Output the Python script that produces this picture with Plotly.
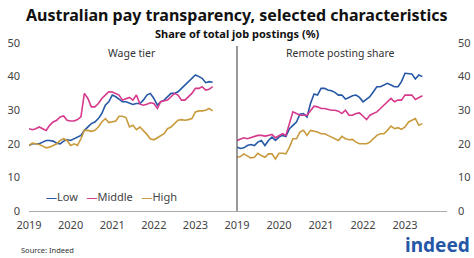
import pandas as pd
import plotly.graph_objects as go

months = pd.date_range("2019-01-01", "2023-06-01", freq="MS")

wage_low = [19.5, 20, 20, 20, 20.5, 21, 21, 20.8, 20.2, 20, 20.8, 21.2,
            21, 21.5, 22, 22.5, 24, 25, 26, 26.5, 27.5, 29, 31.5, 32.5,
            34.5, 34, 33.2, 32.5, 32.5, 32, 31.7, 32, 32, 33, 34.5, 35,
            33.5, 31.5, 32.5, 33, 34, 35, 35, 35.5, 36.5, 37.5, 38.5, 39.5,
            40.5, 40, 39.5, 38.2, 38.5, 38.3]
wage_mid = [24.5, 24.2, 24.5, 25, 24.5, 24, 25.5, 26.5, 27, 28, 28.3, 27,
            26.8, 26.8, 27.2, 28, 35, 33.5, 31, 31, 32, 33.5, 34.5, 35.5,
            35.4, 35, 34.5, 33, 33.5, 33.8, 33, 34.5, 31.8, 31.5, 31.8, 32.2,
            32, 30.5, 32.5, 32.8, 33, 34, 35, 34.5, 33, 33, 34, 35,
            36.5, 36.5, 37, 36, 36.2, 37]
wage_high = [19.5, 20.2, 20, 19.8, 19.3, 18.8, 19, 19.5, 20, 21, 21.5, 21,
             19.5, 20, 19.5, 21.5, 24, 24, 23.7, 24, 25, 26.5, 27.5, 26.3,
             26.5, 26.8, 28.2, 28.2, 27.8, 25, 25.5, 24.2, 25, 24, 22.8, 21.5,
             21.2, 21.8, 22.5, 23, 24.5, 25, 26, 27, 27.2, 27, 27.2, 27.5,
             29.5, 29.8, 29.8, 30, 30.5, 29.8]

rem_low = [19, 18.6, 18.8, 19.5, 19.8, 19.5, 20.5, 21, 19.5, 21, 22, 21,
           22, 22.5, 22.2, 24.5, 25.5, 26.5, 28.8, 29, 28, 32, 34.8, 34.5,
           36.5, 36.5, 36, 35.8, 35.3, 34.5, 34.5, 33.3, 33.8, 34.3, 34.5, 33.8,
           32.5, 33.3, 34, 35.5, 37, 37, 37.5, 38, 37.5, 37, 37, 38.5,
           41, 41, 40.8, 39.3, 40.5, 40]
rem_mid = [21, 21.5, 21.8, 21.5, 21.8, 22, 22.5, 22.5, 22.3, 22.5, 22.8, 21.8,
           22.5, 23, 22.5, 26, 29.5, 29, 28.5, 28.5, 28.5, 29.8, 31.2, 31,
           30.5, 30.5, 30.2, 30, 30, 29.7, 29, 30, 28.5, 28.5, 29, 29.2,
           28.2, 27.2, 28.5, 29, 29.5, 30.5, 31.5, 32.5, 33.5, 32.5, 33, 33,
           34.5, 34.5, 34.5, 33.2, 33.8, 34.3]
rem_high = [16, 16.2, 17, 16.5, 15.8, 16, 17.2, 16.5, 16, 17, 17, 15.5,
            17.2, 17.2, 17, 19, 21.5, 21.5, 23.5, 24, 22.5, 24, 23.8, 23.5,
            23, 23, 22.5, 22, 21.5, 21, 22.2, 21.5, 21.2, 21.3, 20.5, 20,
            20, 20, 20.5, 21.5, 22.5, 23, 23, 24, 25.3, 24.5, 24.8, 24.3,
            25, 26.5, 27, 27.5, 25.5, 26]

series_names = ["Low", "Middle", "High"]
colors = ["#2557a7", "#d6398c", "#c89a3c"]
tick_years = ["2019", "2020", "2021", "2022", "2023"]
y_ticks = [0, 10, 20, 30, 40, 50]

W, H = 474, 258
fig = go.Figure()

for name, vals, c in zip(series_names, [wage_low, wage_mid, wage_high], colors):
    fig.add_trace(go.Scatter(x=months, y=vals, name=name, mode="lines", showlegend=False,
                             line=dict(color=c, width=1.6), xaxis="x", yaxis="y"))
for name, vals, c in zip(series_names, [rem_low, rem_mid, rem_high], colors):
    fig.add_trace(go.Scatter(x=months, y=vals, name=name, mode="lines", showlegend=False,
                             line=dict(color=c, width=1.6), xaxis="x2", yaxis="y2"))

def px_x(p):
    return p / W

def px_y(p):
    return 1 - p / H

ann_font = "Noto Sans, Open Sans, sans-serif"
tickfont = dict(family=ann_font, size=11, color="#444444")
xcommon = dict(type="date", range=["2019-01-01", "2024-01-01"],
               tickvals=[f"{y}-01-01" for y in tick_years], ticktext=tick_years,
               showgrid=False, zeroline=False, showline=True, linecolor="#aaaaaa",
               linewidth=1, ticks="", tickfont=tickfont, fixedrange=True,
               automargin=False, ticklabelstandoff=4)
ycommon = dict(range=[0, 50], tickvals=y_ticks, showgrid=False, zeroline=False,
               showline=False, ticks="", tickfont=tickfont, fixedrange=True,
               automargin=False)

dom_y = [px_y(211), px_y(43)]
fig.update_layout(
    width=W, height=H,
    margin=dict(l=0, r=0, t=0, b=0, autoexpand=False),
    paper_bgcolor="white", plot_bgcolor="white",
    xaxis=dict(domain=[px_x(29), px_x(237)], anchor="y", **xcommon),
    yaxis=dict(domain=dom_y, anchor="x", side="left", ticklabelstandoff=8, **ycommon),
    xaxis2=dict(domain=[px_x(237), px_x(447)], anchor="y2", **xcommon),
    yaxis2=dict(domain=dom_y, anchor="x2", side="right", ticklabelstandoff=10, **ycommon),
    showlegend=False,
)

fig.add_shape(type="line", xref="paper", yref="paper",
              x0=px_x(237), x1=px_x(237), y0=px_y(211), y1=px_y(46),
              line=dict(color="#555555", width=1.2))

def note(text, x, y, size, color="#333333", xanchor="center", pad=1):
    fig.add_annotation(text=text, x=px_x(x), y=px_y(y), xref="paper", yref="paper",
                       xanchor=xanchor, yanchor="middle", showarrow=False, borderpad=pad,
                       font=dict(family=ann_font, size=size, color=color))

legend_text = "".join(
    f"<span style='color:{c}'>—</span>{n}&nbsp;&nbsp;&nbsp;" for n, c in zip(series_names, colors)
)
note(legend_text, 44, 196, 11, "#444444", "left")
note("<b>Australian pay transparency, selected characteristics</b>", 237, 15, 16, "#111111")
note("<b>Share of total job postings (%)</b>", 237, 33, 11, "#111111")
note("Wage tier", 132, 53, 10.5)
note("Remote posting share", 340, 53, 10.5)
note("Source: Indeed", 19, 250, 7.5, "#333333", "left")
note("<b>indeed</b>", 471, 245, 19, "#2557a7", "right", 0)

fig.write_html("out.html")
